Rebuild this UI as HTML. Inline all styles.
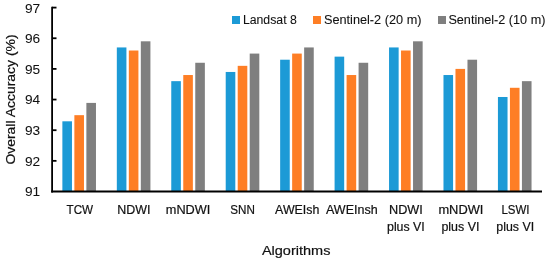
<!DOCTYPE html>
<html><head><meta charset="utf-8"><style>
html,body{margin:0;padding:0;background:#fff;}
svg{display:block;}
text{font-family:"Liberation Sans",Arial,sans-serif;fill:#111;stroke:#111;}
</style></head><body>
<svg width="550" height="261" viewBox="0 0 550 261">
<rect width="550" height="261" fill="#fff"/>
<rect x="62.37" y="121.31" width="9.60" height="70.19" fill="#1c9ad6"/>
<rect x="74.37" y="115.17" width="9.60" height="76.33" fill="#fe7e25"/>
<rect x="86.37" y="102.91" width="9.60" height="88.59" fill="#7f7f7f"/>
<rect x="116.82" y="47.44" width="9.60" height="144.06" fill="#1c9ad6"/>
<rect x="128.82" y="50.51" width="9.60" height="140.99" fill="#fe7e25"/>
<rect x="140.82" y="41.31" width="9.60" height="150.19" fill="#7f7f7f"/>
<rect x="171.26" y="81.16" width="9.60" height="110.34" fill="#1c9ad6"/>
<rect x="183.26" y="75.03" width="9.60" height="116.47" fill="#fe7e25"/>
<rect x="195.26" y="62.77" width="9.60" height="128.73" fill="#7f7f7f"/>
<rect x="225.71" y="71.96" width="9.60" height="119.54" fill="#1c9ad6"/>
<rect x="237.71" y="65.84" width="9.60" height="125.66" fill="#fe7e25"/>
<rect x="249.71" y="53.58" width="9.60" height="137.92" fill="#7f7f7f"/>
<rect x="280.15" y="59.71" width="9.60" height="131.79" fill="#1c9ad6"/>
<rect x="292.15" y="53.58" width="9.60" height="137.92" fill="#fe7e25"/>
<rect x="304.15" y="47.44" width="9.60" height="144.06" fill="#7f7f7f"/>
<rect x="334.59" y="56.64" width="9.60" height="134.86" fill="#1c9ad6"/>
<rect x="346.59" y="75.03" width="9.60" height="116.47" fill="#fe7e25"/>
<rect x="358.59" y="62.77" width="9.60" height="128.73" fill="#7f7f7f"/>
<rect x="389.04" y="47.44" width="9.60" height="144.06" fill="#1c9ad6"/>
<rect x="401.04" y="50.51" width="9.60" height="140.99" fill="#fe7e25"/>
<rect x="413.04" y="41.31" width="9.60" height="150.19" fill="#7f7f7f"/>
<rect x="443.48" y="75.03" width="9.60" height="116.47" fill="#1c9ad6"/>
<rect x="455.48" y="68.90" width="9.60" height="122.60" fill="#fe7e25"/>
<rect x="467.48" y="59.71" width="9.60" height="131.79" fill="#7f7f7f"/>
<rect x="497.93" y="96.99" width="9.60" height="94.51" fill="#1c9ad6"/>
<rect x="509.93" y="87.79" width="9.60" height="103.71" fill="#fe7e25"/>
<rect x="521.93" y="81.16" width="9.60" height="110.34" fill="#7f7f7f"/>
<line x1="52.10" y1="6.70" x2="52.10" y2="192.40" stroke="#000" stroke-width="1.8"/>
<line x1="51.20" y1="191.50" x2="542.00" y2="191.50" stroke="#000" stroke-width="1.8"/>
<line x1="52.10" y1="160.85" x2="56.50" y2="160.85" stroke="#000" stroke-width="1.8"/>
<line x1="52.10" y1="130.20" x2="56.50" y2="130.20" stroke="#000" stroke-width="1.8"/>
<line x1="52.10" y1="99.55" x2="56.50" y2="99.55" stroke="#000" stroke-width="1.8"/>
<line x1="52.10" y1="68.90" x2="56.50" y2="68.90" stroke="#000" stroke-width="1.8"/>
<line x1="52.10" y1="38.25" x2="56.50" y2="38.25" stroke="#000" stroke-width="1.8"/>
<line x1="52.10" y1="7.60" x2="56.50" y2="7.60" stroke="#000" stroke-width="1.8"/>
<text x="25.00" y="196.40" font-size="12" text-anchor="start" textLength="15.20" lengthAdjust="spacingAndGlyphs" stroke-width="0.05">91</text>
<text x="25.00" y="165.75" font-size="12" text-anchor="start" textLength="15.20" lengthAdjust="spacingAndGlyphs" stroke-width="0.05">92</text>
<text x="25.00" y="135.10" font-size="12" text-anchor="start" textLength="15.20" lengthAdjust="spacingAndGlyphs" stroke-width="0.05">93</text>
<text x="25.00" y="104.45" font-size="12" text-anchor="start" textLength="15.20" lengthAdjust="spacingAndGlyphs" stroke-width="0.05">94</text>
<text x="25.00" y="73.80" font-size="12" text-anchor="start" textLength="15.20" lengthAdjust="spacingAndGlyphs" stroke-width="0.05">95</text>
<text x="25.00" y="43.15" font-size="12" text-anchor="start" textLength="15.20" lengthAdjust="spacingAndGlyphs" stroke-width="0.05">96</text>
<text x="25.00" y="12.50" font-size="12" text-anchor="start" textLength="15.20" lengthAdjust="spacingAndGlyphs" stroke-width="0.05">97</text>
<text x="66.50" y="213.80" font-size="12" text-anchor="start" textLength="26.60" lengthAdjust="spacingAndGlyphs" stroke-width="0.2">TCW</text>
<text x="117.30" y="213.80" font-size="12" text-anchor="start" textLength="33.20" lengthAdjust="spacingAndGlyphs" stroke-width="0.2">NDWI</text>
<text x="165.80" y="213.80" font-size="12" text-anchor="start" textLength="44.60" lengthAdjust="spacingAndGlyphs" stroke-width="0.2">mNDWI</text>
<text x="230.30" y="213.80" font-size="12" text-anchor="start" textLength="24.60" lengthAdjust="spacingAndGlyphs" stroke-width="0.2">SNN</text>
<text x="275.10" y="213.80" font-size="12" text-anchor="start" textLength="44.30" lengthAdjust="spacingAndGlyphs" stroke-width="0.2">AWEIsh</text>
<text x="326.00" y="213.80" font-size="12" text-anchor="start" textLength="51.60" lengthAdjust="spacingAndGlyphs" stroke-width="0.2">AWEInsh</text>
<text x="389.00" y="213.80" font-size="12" text-anchor="start" textLength="33.80" lengthAdjust="spacingAndGlyphs" stroke-width="0.2">NDWI</text>
<text x="387.00" y="231.20" font-size="12" text-anchor="start" textLength="37.80" lengthAdjust="spacingAndGlyphs" stroke-width="0.2">plus VI</text>
<text x="438.40" y="213.80" font-size="12" text-anchor="start" textLength="45.00" lengthAdjust="spacingAndGlyphs" stroke-width="0.2">mNDWI</text>
<text x="441.40" y="231.20" font-size="12" text-anchor="start" textLength="38.00" lengthAdjust="spacingAndGlyphs" stroke-width="0.2">plus VI</text>
<text x="501.40" y="213.80" font-size="12" text-anchor="start" textLength="28.10" lengthAdjust="spacingAndGlyphs" stroke-width="0.2">LSWI</text>
<text x="496.30" y="231.20" font-size="12" text-anchor="start" textLength="37.80" lengthAdjust="spacingAndGlyphs" stroke-width="0.2">plus VI</text>
<text x="242.90" y="23.50" font-size="12" text-anchor="start" textLength="53.90" lengthAdjust="spacingAndGlyphs" stroke-width="0.08">Landsat 8</text>
<text x="323.90" y="23.50" font-size="12" text-anchor="start" textLength="97.60" lengthAdjust="spacingAndGlyphs" stroke-width="0.08">Sentinel-2 (20 m)</text>
<text x="448.40" y="23.50" font-size="12" text-anchor="start" textLength="97.00" lengthAdjust="spacingAndGlyphs" stroke-width="0.08">Sentinel-2 (10 m)</text>
<text x="261.90" y="254.80" font-size="13.7" text-anchor="start" textLength="68.50" lengthAdjust="spacingAndGlyphs" stroke-width="0.2">Algorithms</text>
<text x="15.10" y="164.60" font-size="13.7" text-anchor="start" textLength="130.20" lengthAdjust="spacingAndGlyphs" stroke-width="0.2" transform="rotate(-90 15.10 164.60)">Overall Accuracy (%)</text>
<rect x="232.0" y="16.0" width="8.0" height="8.0" fill="#1c9ad6"/>
<rect x="313.0" y="16.0" width="8.0" height="8.0" fill="#fe7e25"/>
<rect x="438.0" y="16.0" width="8.0" height="8.0" fill="#7f7f7f"/>
</svg>
</body></html>
